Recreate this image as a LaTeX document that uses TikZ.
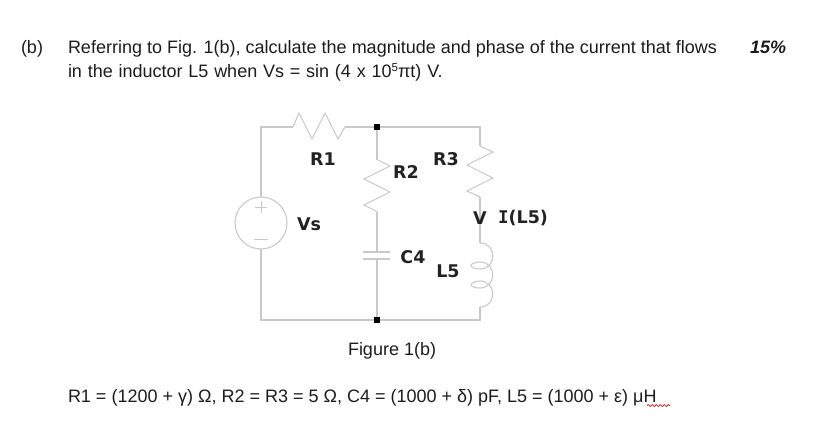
\documentclass[tikz,border=0pt]{standalone}
\usepackage{fontspec}
\setmainfont{Liberation Sans}
\newfontfamily\lblfont{DejaVu Sans}
\newfontfamily\lblmono{DejaVu Sans Mono}
\usetikzlibrary{decorations.pathmorphing}
\definecolor{wire}{HTML}{C9C9C9}
\definecolor{ink}{HTML}{1C1C1C}
\definecolor{lbl}{HTML}{222222}
\tikzset{
  wireline/.style={draw=wire,line width=1.1pt,line join=miter},
  para/.style={anchor=base west,inner sep=0pt,outer sep=0pt,text=ink,font=\fontsize{18}{20}\selectfont},
  part/.style={anchor=center,inner sep=0pt,outer sep=0pt,text=lbl,font=\lblfont\bfseries\fontsize{17.5}{20}\selectfont},
  dot/.style={fill=black,draw=none,minimum size=6pt,inner sep=0pt,outer sep=0pt,rectangle},
  srccircle/.style={circle,draw=wire,line width=1.1pt,minimum size=52pt,inner sep=0pt,outer sep=0pt},
}
\begin{document}
\begin{tikzpicture}[x=1pt,y=-1pt]
\useasboundingbox (0,0) rectangle (817,426);
% text
\node[para] (qb) at (21,53) {(b)};
\node[para] (l1) at (68,53) {Referring to Fig. 1(b), calculate the magnitude and phase of the current that flows};
\node[para] (l2) at (68,77) {\spaceskip=5.8pt in the inductor L5 when Vs = sin (4 x 10\raisebox{5.5pt}{\fontsize{11.5}{12}\selectfont 5}πt) V.};
\node[para,font=\fontsize{18}{20}\selectfont\bfseries\itshape] (mk) at (750,53) {15\%};
\node[para] (fig) at (348,355) {Figure 1(b)};
\node[para] (vals) at (68,402) {R1 = (1200 + γ) Ω, R2 = R3 = 5 Ω, C4 = (1000 + δ) pF, L5 = (1000 + ε) μH};
\coordinate (sqa) at (647,405.5);
\coordinate (sqb) at (670,405.5);
\draw[red!85!black,line width=0.7pt,decorate,decoration={snake,amplitude=1pt,segment length=4pt}] (sqa) -- (sqb);
% circuit points
\node[srccircle] (vs) at (261,223) {};
\node[dot] (jt) at (377,127) {};
\node[dot] (jb) at (377,320) {};
\coordinate (tl) at (261,127);
\coordinate (bl) at (261,320);
\coordinate (tr) at (480,127);
\coordinate (br) at (480,320);
\coordinate (r1a) at (293,127);
\coordinate (r1b) at (345,127);
\coordinate (r2a) at (377,159.5);
\coordinate (r2b) at (377,211.5);
\coordinate (c4a) at (377,252);
\coordinate (c4b) at (377,259);
\coordinate (r3a) at (480,146);
\coordinate (r3b) at (480,197);
\coordinate (l5a) at (480,243);
\coordinate (l5b) at (480,307);
% wires
\draw[wireline] (vs.north) -- (tl) -- (r1a);
\draw[wireline] (r1a) -- (299,113) -- (312,139) -- (325,113) -- (338,139) -- (r1b);
\draw[wireline] (r1b) -- (jt);
\draw[wireline] (jt) -- (tr) -- (r3a);
\draw[wireline] (r3a) -- (493,152) -- (467,165) -- (493,178) -- (467,191) -- (r3b);
\draw[wireline] (r3b) -- (l5a);
\draw[wireline] (l5a) .. controls (497,243) and (497,269) .. (480,269)
   .. controls (474,269) and (471,267) .. (471,265.5)
   .. controls (471,264) and (474,262) .. (480,262)
   .. controls (497,262) and (497,288) .. (480,288)
   .. controls (474,288) and (471,286) .. (471,285)
   .. controls (471,283.5) and (474,281) .. (480,281)
   .. controls (497,281) and (497,307) .. (l5b);
\draw[wireline] (l5b) -- (br) -- (jb);
\draw[wireline] (jt) -- (r2a);
\draw[wireline] (r2a) -- (390,166) -- (364,179) -- (390,192) -- (364,205) -- (r2b);
\draw[wireline] (r2b) -- (c4a);
\draw[wireline] (363,252) -- (390,252);
\draw[wireline] (363,259) -- (390,259);
\draw[wireline] (c4b) -- (jb);
\draw[wireline] (jb) -- (bl) -- (vs.south);
% source signs
\draw[wireline,line width=0.8pt] (261,201) -- (261,213) (255,207) -- (267,207);
\draw[wireline,line width=0.8pt] (254,239) -- (268,239);
% labels
\node[part] (lr1) at (323,159) {R1};
\node[part] (lvs) at (309,224) {Vs};
\node[part] (lr2) at (406,172) {R2};
\node[part] (lr3) at (446,159) {R3};
\node[part] (lc4) at (413,257) {C4};
\node[part] (ll5) at (448,271) {L5};
\node[part] (lv) at (480,218) {V};
\node[part] (li) at (523,218) {{\lblmono I}(L5)};
\end{tikzpicture}
\end{document}
